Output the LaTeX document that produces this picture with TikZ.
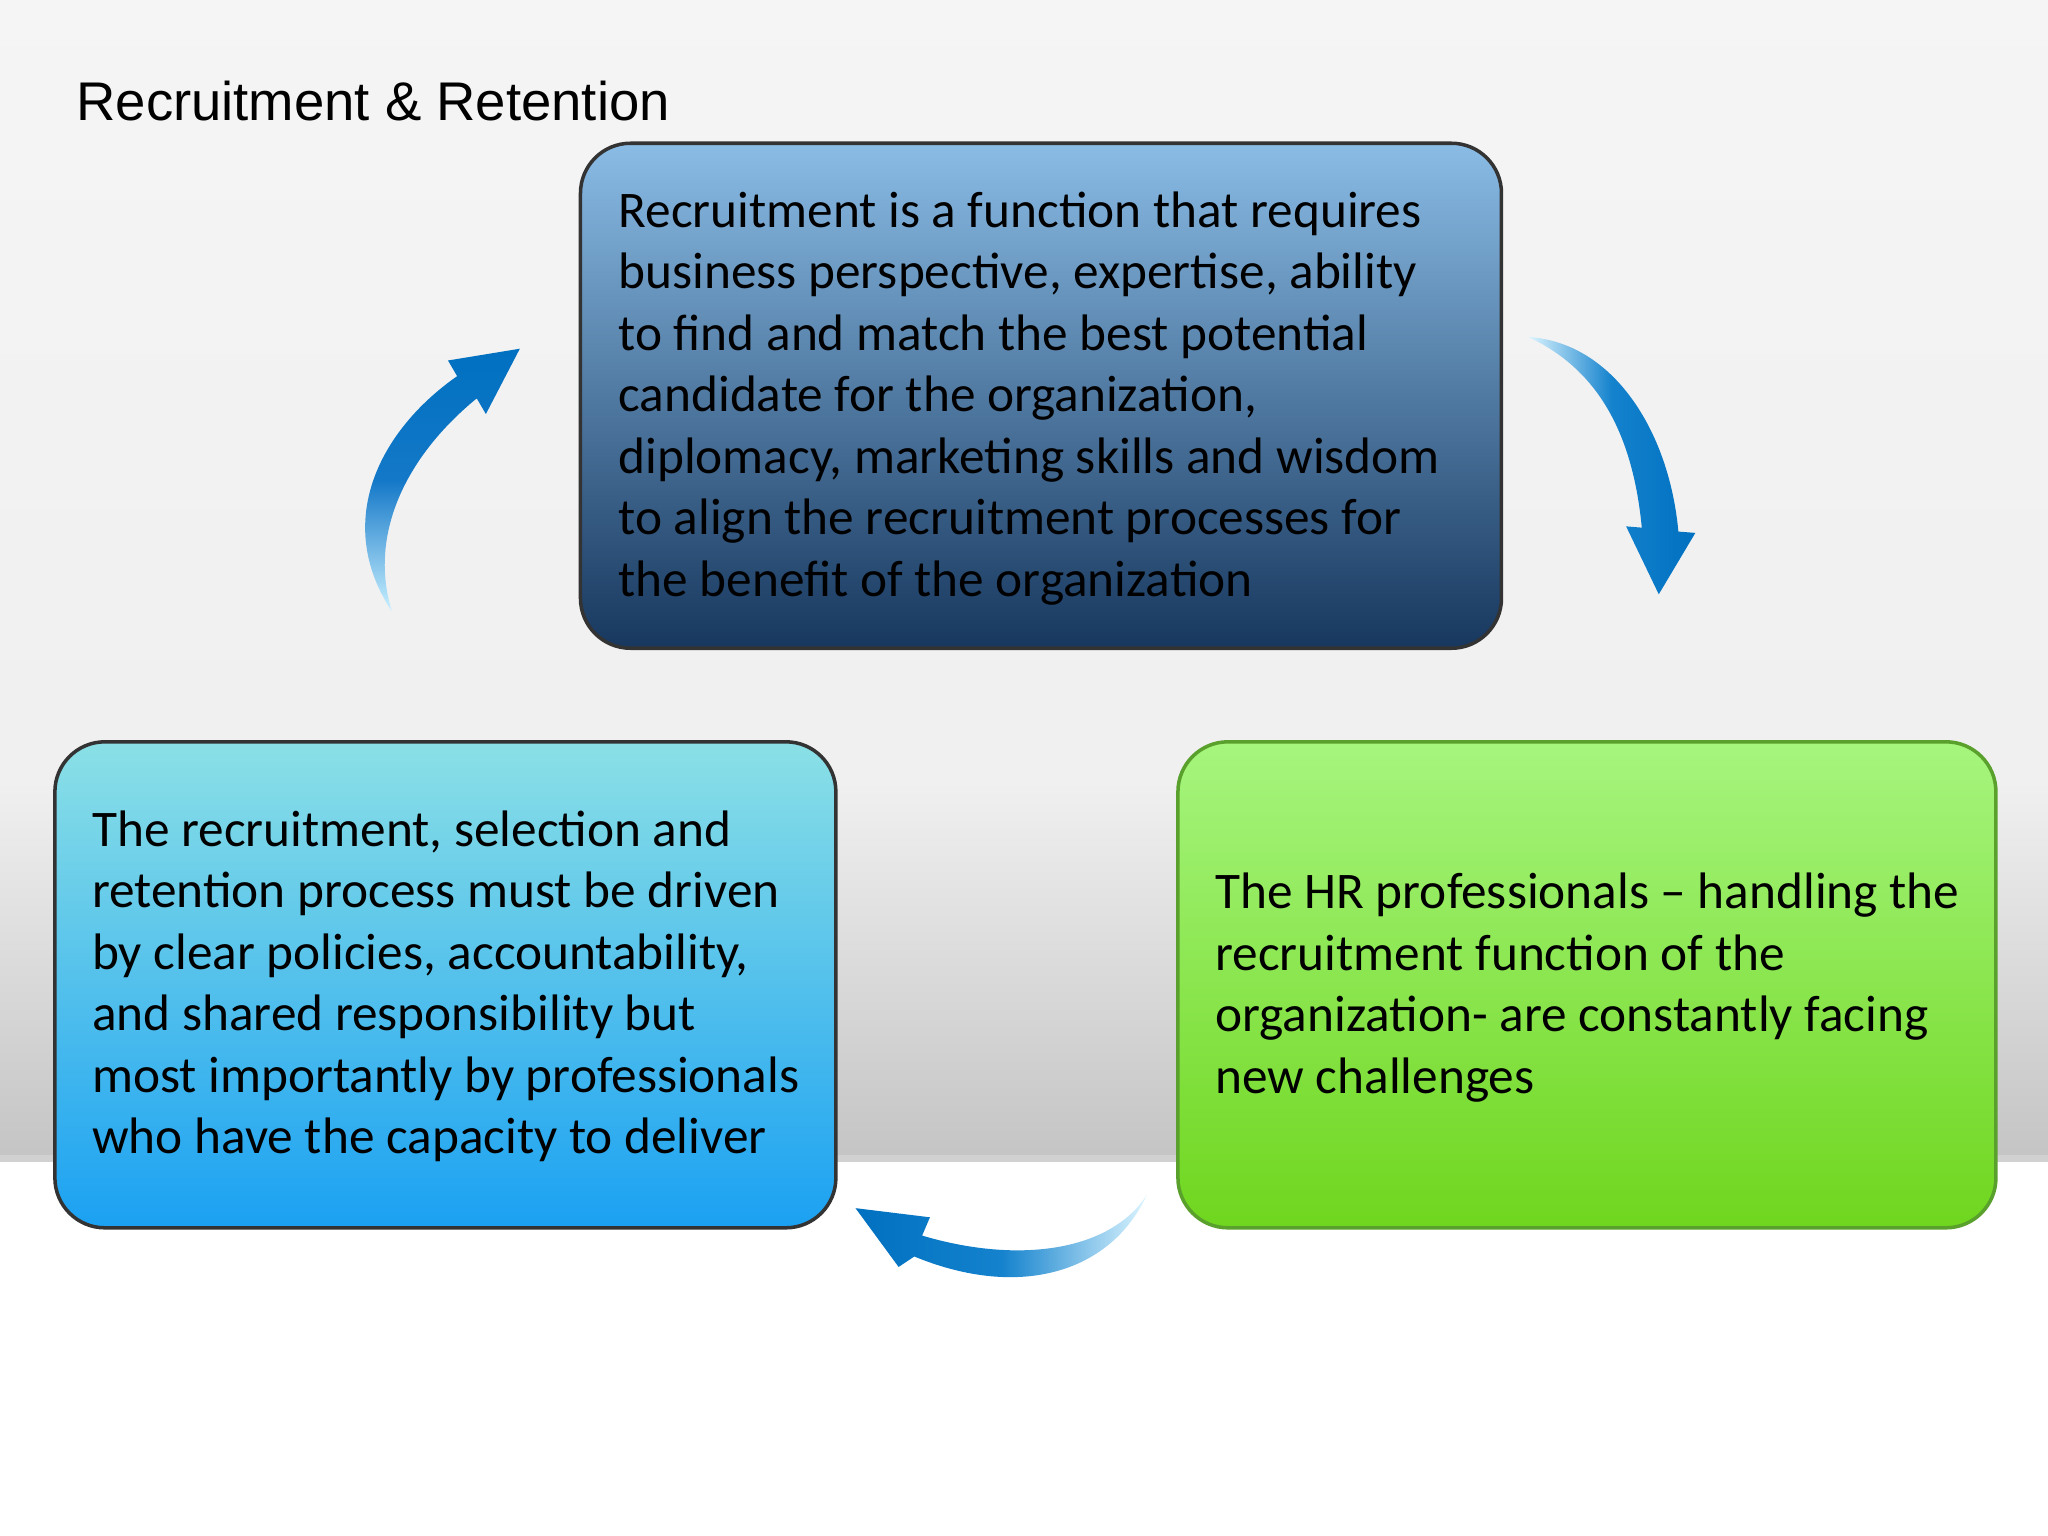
\documentclass[tikz,border=0pt]{standalone}
\usepackage{fontspec}
\setmainfont{Carlito}
\newfontfamily\arialf{Liberation Sans}
\begin{document}
\begin{tikzpicture}[x=0.01306cm,y=-0.01306cm,
  box/.style={rounded corners=0.5cm,line width=1pt,inner sep=0pt},
  txt/.style={anchor=north west,inner sep=0pt,align=left,font=\fontsize{14.6pt}{17.5pt}\selectfont},
  arr/.style={draw=none}]
\useasboundingbox (0,0) rectangle (1568,1176);
\fill[white] (0,0) rectangle (1568,1176);
\shade[top color=black!4,bottom color=black!6] (0,0) rectangle (1568,600);
\shade[top color=black!6,bottom color=black!23] (0,600) rectangle (1568,886);
\fill[black!18] (0,884) rectangle (1568,890);
\node[anchor=base west,inner sep=0pt,font=\arialf\fontsize{15.5pt}{18pt}\selectfont] (title) at (58,92) {Recruitment \& Retention};
% boxes
\node[box,draw=black!80,top color=blue!45!cyan!40!white!90!black,bottom color={rgb,255:red,23;green,55;blue,94},minimum width=9.21cm,minimum height=5.05cm] (top) at (797,303) {};
\node[box,draw=black!80,top color={rgb,255:red,139;green,224;blue,230},bottom color={rgb,255:red,27;green,161;blue,242},minimum width=7.81cm,minimum height=4.86cm] (left) at (341,754) {};
\node[box,draw={rgb,255:red,90;green,160;blue,44},top color={rgb,255:red,166;green,245;blue,126},bottom color={rgb,255:red,111;green,214;blue,30},minimum width=8.18cm,minimum height=4.86cm] (right) at (1215,754) {};
\node[txt] (ttop) at (473,146) {Recruitment is a function that requires\\business perspective, expertise, ability\\to find and match the best potential\\candidate for the organization,\\diplomacy, marketing skills and wisdom\\to align the recruitment processes for\\the benefit of the organization};
\node[txt] (tleft) at (70,620) {The recruitment, selection and\\retention process must be driven\\by clear policies, accountability,\\and shared responsibility but\\most importantly by professionals\\who have the capacity to deliver};
\node[txt] (tright) at (930,668) {The HR professionals -- handling the\\recruitment function of the\\organization- are constantly facing\\new challenges};
% arrows
\shade[arr,bottom color={rgb,255:red,200;green,240;blue,255},top color={rgb,255:red,0;green,112;blue,192},middle color={rgb,255:red,20;green,120;blue,200}]
 (300,468) .. controls (255,400) and (290,330) .. (350,288) -- (343,276) -- (398,267) -- (372,317) -- (365,305) .. controls (310,350) and (282,410) .. (300,468) -- cycle;
\shade[arr,left color={rgb,255:red,220;green,245;blue,255},right color={rgb,255:red,0;green,112;blue,192},middle color={rgb,255:red,20;green,130;blue,205}]
 (1170,258) .. controls (1235,262) and (1278,330) .. (1285,407) -- (1298,408) -- (1270,455) -- (1245,403) -- (1257,404) .. controls (1250,330) and (1222,282) .. (1170,258) -- cycle;
\shade[arr,right color={rgb,255:red,220;green,245;blue,255},left color={rgb,255:red,0;green,112;blue,192},middle color={rgb,255:red,20;green,130;blue,205}]
 (878,915) .. controls (850,975) and (780,995) .. (700,962) -- (688,970) -- (655,925) -- (712,932) -- (706,946) .. controls (780,968) and (850,958) .. (878,915) -- cycle;
\end{tikzpicture}
\end{document}
